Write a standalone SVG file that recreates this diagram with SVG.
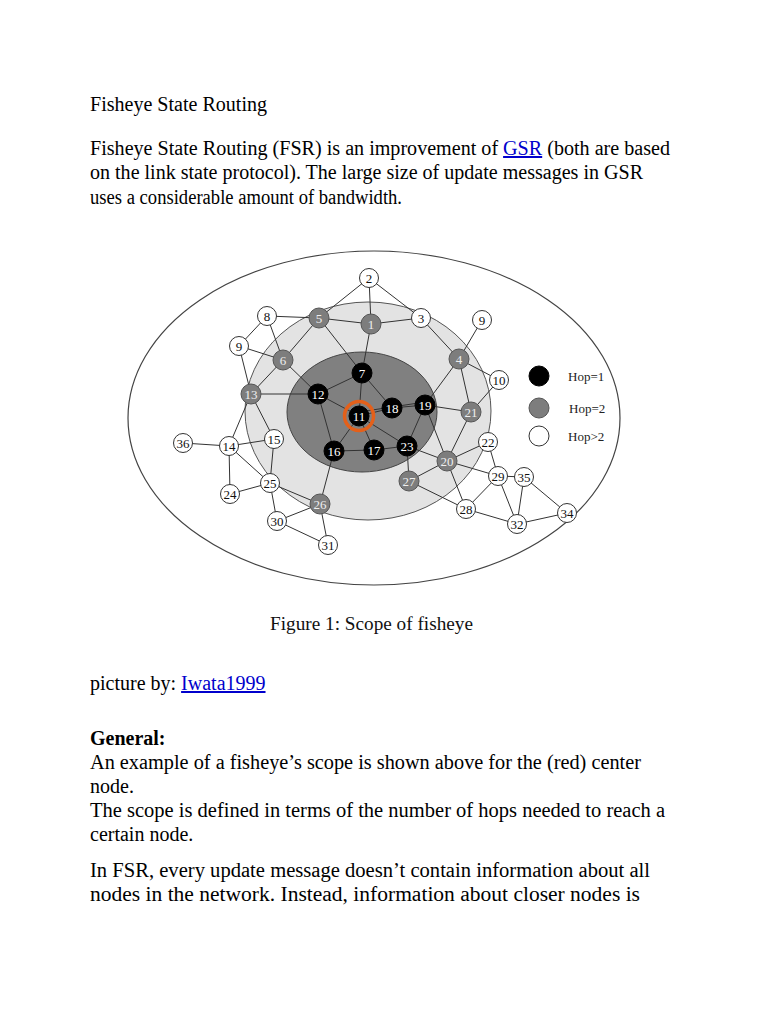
<svg xmlns="http://www.w3.org/2000/svg" width="768" height="1024" viewBox="0 0 768 1024">
<style>
.t{font-family:"Liberation Serif","Times New Roman",serif;font-size:20px;fill:#000}
.lk{fill:#0000cc;text-decoration:underline}
.e{stroke:#333;stroke-width:1;fill:none}
.w circle{fill:#fff;stroke:#333;stroke-width:1}
.g circle{fill:#7d7d7d;stroke:#555;stroke-width:1}
.b circle{fill:#000;stroke:#000;stroke-width:1}
.nl{font-family:"Liberation Serif","Times New Roman",serif;font-size:13px;text-anchor:middle}
.w text{fill:#111}
.g text{fill:#eee}
.b text{fill:#fff}
.lg{font-family:"Liberation Serif","Times New Roman",serif;font-size:13px;fill:#222}
</style>
<rect width="768" height="1024" fill="#fff"/>
<text class="t" x="90" y="111" textLength="177" lengthAdjust="spacingAndGlyphs">Fisheye State Routing</text>
<text class="t" x="90" y="155" textLength="580" lengthAdjust="spacingAndGlyphs">Fisheye State Routing (FSR) is an improvement of <tspan class="lk">GSR</tspan> (both are based</text>
<text class="t" x="90" y="179" textLength="553" lengthAdjust="spacingAndGlyphs">on the link state protocol). The large size of update messages in GSR</text>
<text class="t" x="90" y="204" textLength="312" lengthAdjust="spacingAndGlyphs">uses a considerable amount of bandwidth.</text>

<g id="scope-regions">
<ellipse cx="374" cy="418" rx="246" ry="167" fill="#fff" stroke="#444" stroke-width="1.2"/>
<ellipse cx="368" cy="411" rx="123" ry="109" fill="#e3e3e3" stroke="#555" stroke-width="1"/>
<ellipse cx="362" cy="412" rx="75" ry="60" fill="#808080" stroke="#444" stroke-width="1"/>
</g>

<g id="connectors" class="e">
<line x1="369" y1="278" x2="371" y2="324"/>
<line x1="369" y1="278" x2="319" y2="318"/>
<line x1="369" y1="278" x2="421" y2="318"/>
<line x1="371" y1="324" x2="421" y2="318"/>
<line x1="371" y1="324" x2="319" y2="318"/>
<line x1="371" y1="324" x2="362" y2="373"/>
<line x1="267" y1="316" x2="319" y2="318"/>
<line x1="267" y1="316" x2="239" y2="346"/>
<line x1="267" y1="316" x2="283" y2="360"/>
<line x1="239" y1="346" x2="283" y2="360"/>
<line x1="239" y1="346" x2="251" y2="394"/>
<line x1="319" y1="318" x2="283" y2="360"/>
<line x1="319" y1="318" x2="362" y2="373"/>
<line x1="283" y1="360" x2="251" y2="394"/>
<line x1="283" y1="360" x2="318" y2="394"/>
<line x1="251" y1="394" x2="318" y2="394"/>
<line x1="421" y1="318" x2="459" y2="359"/>
<line x1="482" y1="320" x2="459" y2="359"/>
<line x1="459" y1="359" x2="499" y2="380"/>
<line x1="459" y1="359" x2="425" y2="405"/>
<line x1="459" y1="359" x2="471" y2="412"/>
<line x1="499" y1="380" x2="471" y2="412"/>
<line x1="362" y1="373" x2="318" y2="394"/>
<line x1="362" y1="373" x2="359" y2="416"/>
<line x1="362" y1="373" x2="392" y2="408"/>
<line x1="318" y1="394" x2="359" y2="416"/>
<line x1="318" y1="394" x2="334" y2="451"/>
<line x1="359" y1="416" x2="392" y2="408"/>
<line x1="359" y1="412" x2="425" y2="402"/>
<line x1="392" y1="408" x2="425" y2="405"/>
<line x1="359" y1="416" x2="334" y2="451"/>
<line x1="359" y1="416" x2="374" y2="450"/>
<line x1="359" y1="416" x2="407" y2="446"/>
<line x1="334" y1="451" x2="374" y2="450"/>
<line x1="374" y1="450" x2="407" y2="446"/>
<line x1="425" y1="405" x2="407" y2="446"/>
<line x1="425" y1="405" x2="471" y2="412"/>
<line x1="425" y1="405" x2="447" y2="461"/>
<line x1="471" y1="412" x2="447" y2="461"/>
<line x1="488" y1="442" x2="447" y2="461"/>
<line x1="488" y1="442" x2="498" y2="476"/>
<line x1="407" y1="446" x2="447" y2="461"/>
<line x1="407" y1="446" x2="409" y2="481"/>
<line x1="409" y1="481" x2="447" y2="461"/>
<line x1="409" y1="481" x2="466" y2="509"/>
<line x1="447" y1="461" x2="466" y2="509"/>
<line x1="447" y1="461" x2="498" y2="476"/>
<line x1="466" y1="509" x2="498" y2="476"/>
<line x1="466" y1="509" x2="517" y2="524"/>
<line x1="498" y1="476" x2="524" y2="477"/>
<line x1="498" y1="476" x2="517" y2="524"/>
<line x1="524" y1="477" x2="517" y2="524"/>
<line x1="524" y1="477" x2="567" y2="513"/>
<line x1="517" y1="524" x2="567" y2="513"/>
<line x1="334" y1="451" x2="320" y2="504"/>
<line x1="251" y1="394" x2="229" y2="446"/>
<line x1="251" y1="394" x2="274" y2="439"/>
<line x1="183" y1="443" x2="229" y2="446"/>
<line x1="229" y1="446" x2="274" y2="439"/>
<line x1="229" y1="446" x2="230" y2="494"/>
<line x1="229" y1="446" x2="270" y2="483"/>
<line x1="274" y1="439" x2="270" y2="483"/>
<line x1="230" y1="494" x2="270" y2="483"/>
<line x1="270" y1="483" x2="320" y2="504"/>
<line x1="270" y1="483" x2="277" y2="521"/>
<line x1="320" y1="504" x2="277" y2="521"/>
<line x1="320" y1="504" x2="328" y2="545"/>
<line x1="277" y1="521" x2="328" y2="545"/>
</g>

<g id="n2" class="w"><circle cx="369" cy="278" r="9.5"/><text class="nl" x="369" y="282.5">2</text></g>
<g id="n1" class="g"><circle cx="371" cy="324" r="10"/><text class="nl" x="371" y="328.5">1</text></g>
<g id="n3" class="w"><circle cx="421" cy="318" r="9.5"/><text class="nl" x="421" y="322.5">3</text></g>
<g id="n5" class="g"><circle cx="319" cy="318" r="10"/><text class="nl" x="319" y="322.5">5</text></g>
<g id="n8" class="w"><circle cx="267" cy="316" r="9.5"/><text class="nl" x="267" y="320.5">8</text></g>
<g id="n9a" class="w"><circle cx="239" cy="346" r="9.5"/><text class="nl" x="239" y="350.5">9</text></g>
<g id="n6" class="g"><circle cx="283" cy="360" r="10"/><text class="nl" x="283" y="364.5">6</text></g>
<g id="n9b" class="w"><circle cx="482" cy="320" r="9.5"/><text class="nl" x="482" y="324.5">9</text></g>
<g id="n4" class="g"><circle cx="459" cy="359" r="10"/><text class="nl" x="459" y="363.5">4</text></g>
<g id="n10" class="w"><circle cx="499" cy="380" r="9.5"/><text class="nl" x="499" y="384.5">10</text></g>
<g id="n7" class="b"><circle cx="362" cy="373" r="10"/><text class="nl" x="362" y="377.5">7</text></g>
<g id="n12" class="b"><circle cx="318" cy="394" r="10"/><text class="nl" x="318" y="398.5">12</text></g>
<g id="n13" class="g"><circle cx="251" cy="394" r="10"/><text class="nl" x="251" y="398.5">13</text></g>
<g id="n11" class="b"><circle cx="359" cy="416" r="14.5" style="fill:none;stroke:#e4601a;stroke-width:3.5"/><circle cx="359" cy="416" r="10"/><text class="nl" x="359" y="420.5">11</text></g>
<g id="n18" class="b"><circle cx="392" cy="408" r="10"/><text class="nl" x="392" y="412.5">18</text></g>
<g id="n19" class="b"><circle cx="425" cy="405" r="10"/><text class="nl" x="425" y="409.5">19</text></g>
<g id="n21" class="g"><circle cx="471" cy="412" r="10"/><text class="nl" x="471" y="416.5">21</text></g>
<g id="n22" class="w"><circle cx="488" cy="442" r="9.5"/><text class="nl" x="488" y="446.5">22</text></g>
<g id="n23" class="b"><circle cx="407" cy="446" r="10"/><text class="nl" x="407" y="450.5">23</text></g>
<g id="n17" class="b"><circle cx="374" cy="450" r="10"/><text class="nl" x="374" y="454.5">17</text></g>
<g id="n16" class="b"><circle cx="334" cy="451" r="10"/><text class="nl" x="334" y="455.5">16</text></g>
<g id="n20" class="g"><circle cx="447" cy="461" r="10"/><text class="nl" x="447" y="465.5">20</text></g>
<g id="n27" class="g"><circle cx="409" cy="481" r="10"/><text class="nl" x="409" y="485.5">27</text></g>
<g id="n29" class="w"><circle cx="498" cy="476" r="9.5"/><text class="nl" x="498" y="480.5">29</text></g>
<g id="n35" class="w"><circle cx="524" cy="477" r="9.5"/><text class="nl" x="524" y="481.5">35</text></g>
<g id="n28" class="w"><circle cx="466" cy="509" r="9.5"/><text class="nl" x="466" y="513.5">28</text></g>
<g id="n32" class="w"><circle cx="517" cy="524" r="9.5"/><text class="nl" x="517" y="528.5">32</text></g>
<g id="n34" class="w"><circle cx="567" cy="513" r="9.5"/><text class="nl" x="567" y="517.5">34</text></g>
<g id="n36" class="w"><circle cx="183" cy="443" r="9.5"/><text class="nl" x="183" y="447.5">36</text></g>
<g id="n14" class="w"><circle cx="229" cy="446" r="9.5"/><text class="nl" x="229" y="450.5">14</text></g>
<g id="n15" class="w"><circle cx="274" cy="439" r="9.5"/><text class="nl" x="274" y="443.5">15</text></g>
<g id="n25" class="w"><circle cx="270" cy="483" r="9.5"/><text class="nl" x="270" y="487.5">25</text></g>
<g id="n24" class="w"><circle cx="230" cy="494" r="9.5"/><text class="nl" x="230" y="498.5">24</text></g>
<g id="n26" class="g"><circle cx="320" cy="504" r="10"/><text class="nl" x="320" y="508.5">26</text></g>
<g id="n30" class="w"><circle cx="277" cy="521" r="9.5"/><text class="nl" x="277" y="525.5">30</text></g>
<g id="n31" class="w"><circle cx="328" cy="545" r="9.5"/><text class="nl" x="328" y="549.5">31</text></g>

<g id="legend">
<g class="b"><circle cx="539" cy="376" r="10"/></g>
<g class="g"><circle cx="539" cy="408" r="10"/></g>
<g class="w"><circle cx="539" cy="436" r="10"/></g>
<text class="lg" x="568" y="381">Hop=1</text>
<text class="lg" x="569" y="413">Hop=2</text>
<text class="lg" x="568" y="441">Hop&gt;2</text>
</g>

<text x="270" y="630" font-family="Liberation Serif, Times New Roman, serif" font-size="18" fill="#111" textLength="203" lengthAdjust="spacingAndGlyphs">Figure 1: Scope of fisheye</text>

<text class="t" x="90" y="690">picture by: <tspan class="lk">Iwata1999</tspan></text>
<text class="t" x="90" y="745" style="font-weight:bold">General:</text>
<text class="t" x="90" y="769" textLength="551" lengthAdjust="spacingAndGlyphs">An example of a fisheye’s scope is shown above for the (red) center</text>
<text class="t" x="90" y="793">node.</text>
<text class="t" x="90" y="817" textLength="575" lengthAdjust="spacingAndGlyphs">The scope is defined in terms of the number of hops needed to reach a</text>
<text class="t" x="90" y="841">certain node.</text>
<text class="t" x="90" y="877" textLength="560" lengthAdjust="spacingAndGlyphs">In FSR, every update message doesn’t contain information about all</text>
<text class="t" x="90" y="901" textLength="550" lengthAdjust="spacingAndGlyphs">nodes in the network. Instead, information about closer nodes is</text>
</svg>
